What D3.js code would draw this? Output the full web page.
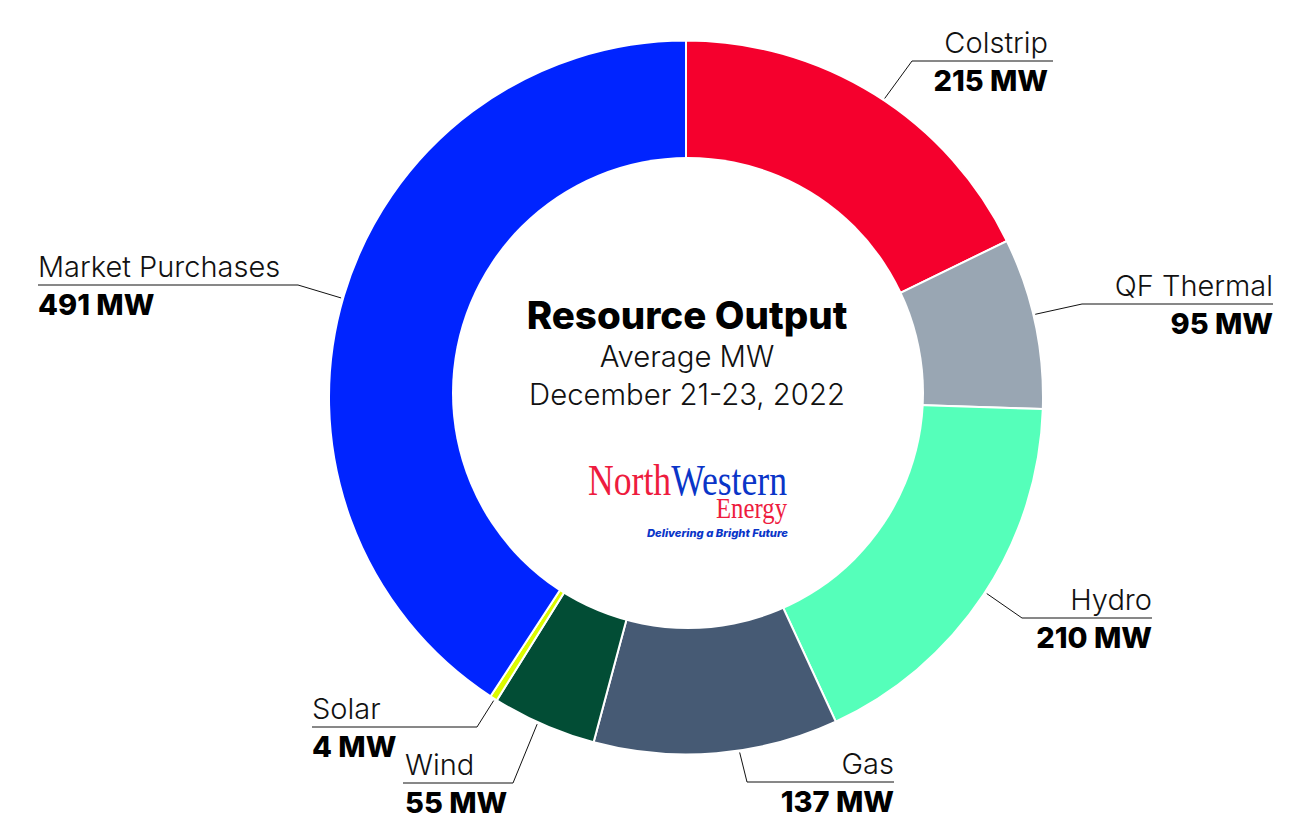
<!DOCTYPE html>
<html>
<head>
<meta charset="utf-8">
<script src="https://cdn.jsdelivr.net/npm/d3@7"></script>
<style>
html, body { margin: 0; background: #fff; }
svg { display: block; font-family: Inter, sans-serif; }
</style>
</head>
<body>
<svg id="chart" width="1314" height="834"></svg>
<script>
const categories = ["Colstrip", "QF Thermal", "Hydro", "Gas", "Wind", "Solar", "Market Purchases"];
const values = [215, 95, 210, 137, 55, 4, 491];
// the drawn slices don't quite follow the printed MW, so sweeps are read off the picture (degrees)
const sweeps = [64, 27.85, 63.35, 39.8, 17, 1.2, 146.8];
const colors = ["#f5002d", "#99a6b3", "#55ffba", "#465a74", "#024d35", "#dcfb00", "#0024ff"];
const unit = "MW";

const cx = 686, cy = 397.5, outerR = 357;
// the hole sits slightly off centre in the original
const holeX = 688, holeY = 393, holeR = 236;

// label layout: x = text edge, y = rule height, leaderAngle = where the leader meets the ring (degrees)
const labelAnchor = ["end", "end", "end", "end", "start", "start", "start"];
const labelX = [1048, 1273, 1152, 894, 405, 312, 38];
const ruleY = [61, 304, 618, 782, 783, 727, 285];
const ruleOuter = [1053, 1273, 1152, 894, 403, 312, 38];
const ruleElbow = [912, 1082, 1022, 747, 513, 477, 298];
const leaderAngle = [33.6, 76.6, 123.1, 171.4, 204.5, 212.4, 286.1];

const svg = d3.select("#chart");
const g = svg.append("g").attr("transform", `translate(${cx},${cy})`);

const pie = d3.pie().sort(null).value(d => d);
const arcs = pie(sweeps);
const arc = d3.arc().innerRadius(0).outerRadius(outerR);

g.selectAll("path.slice")
    .data(arcs)
    .join("path")
    .attr("class", "slice")
    .attr("d", arc)
    .attr("fill", (d, i) => colors[i])
    .attr("stroke", "#fff")
    .attr("stroke-width", 2);

svg.append("circle").attr("cx", holeX).attr("cy", holeY).attr("r", holeR).attr("fill", "#fff");

// leader lines
const lead = leaderAngle.map((deg, i) => {
    const a = deg * Math.PI / 180;
    const r = outerR + 2;
    return [[cx + r * Math.sin(a), cy - r * Math.cos(a)], [ruleElbow[i], ruleY[i]], [ruleOuter[i], ruleY[i]]];
});
svg.selectAll("path.leader")
    .data(lead)
    .join("path")
    .attr("class", "leader")
    .attr("d", d3.line())
    .attr("fill", "none")
    .attr("stroke", "#111")
    .attr("stroke-width", 1);

const labels = svg.selectAll("g.label").data(categories).join("g").attr("class", "label");
labels.append("text")
    .attr("x", (d, i) => labelX[i])
    .attr("y", (d, i) => ruleY[i] - 8)
    .attr("text-anchor", (d, i) => labelAnchor[i])
    .attr("font-size", 29)
    .attr("font-weight", 300)
    .attr("fill", "#111")
    .text(d => d);
labels.append("text")
    .attr("x", (d, i) => labelX[i])
    .attr("y", (d, i) => ruleY[i] + 30)
    .attr("text-anchor", (d, i) => labelAnchor[i])
    .attr("font-size", 29)
    .attr("font-weight", 800)
    .attr("fill", "#000")
    .text((d, i) => `${values[i]} ${unit}`);

// centre title
svg.append("text").attr("x", 687).attr("y", 329).attr("text-anchor", "middle")
    .attr("font-size", 38.5).attr("font-weight", 800).text("Resource Output");
svg.append("text").attr("x", 687).attr("y", 367).attr("text-anchor", "middle")
    .attr("font-size", 29.3).attr("font-weight", 300).attr("fill", "#111").text("Average MW");
svg.append("text").attr("x", 687).attr("y", 405).attr("text-anchor", "middle")
    .attr("font-size", 29.3).attr("font-weight", 300).attr("fill", "#111").text("December 21-23, 2022");

// logo, as text
const logo = svg.append("g").attr("font-family", "'Liberation Serif', serif");
const logoTop = logo.append("text").attr("x", 588).attr("y", 495)
    .attr("font-size", 44).attr("textLength", 199).attr("lengthAdjust", "spacingAndGlyphs");
logoTop.append("tspan").attr("fill", "#ee1c3e").text("North");
logoTop.append("tspan").attr("fill", "#0a35c8").text("Western");
logo.append("text").attr("x", 716).attr("y", 518)
    .attr("font-size", 30).attr("fill", "#ee1c3e")
    .attr("textLength", 71).attr("lengthAdjust", "spacingAndGlyphs").text("Energy");
logo.append("text").attr("x", 647).attr("y", 537)
    .attr("font-family", "Inter, sans-serif").attr("font-size", 11).attr("font-weight", 800)
    .attr("font-style", "italic").attr("fill", "#0a35c8")
    .attr("textLength", 141).attr("lengthAdjust", "spacingAndGlyphs").text("Delivering a Bright Future");
</script>
</body>
</html>
